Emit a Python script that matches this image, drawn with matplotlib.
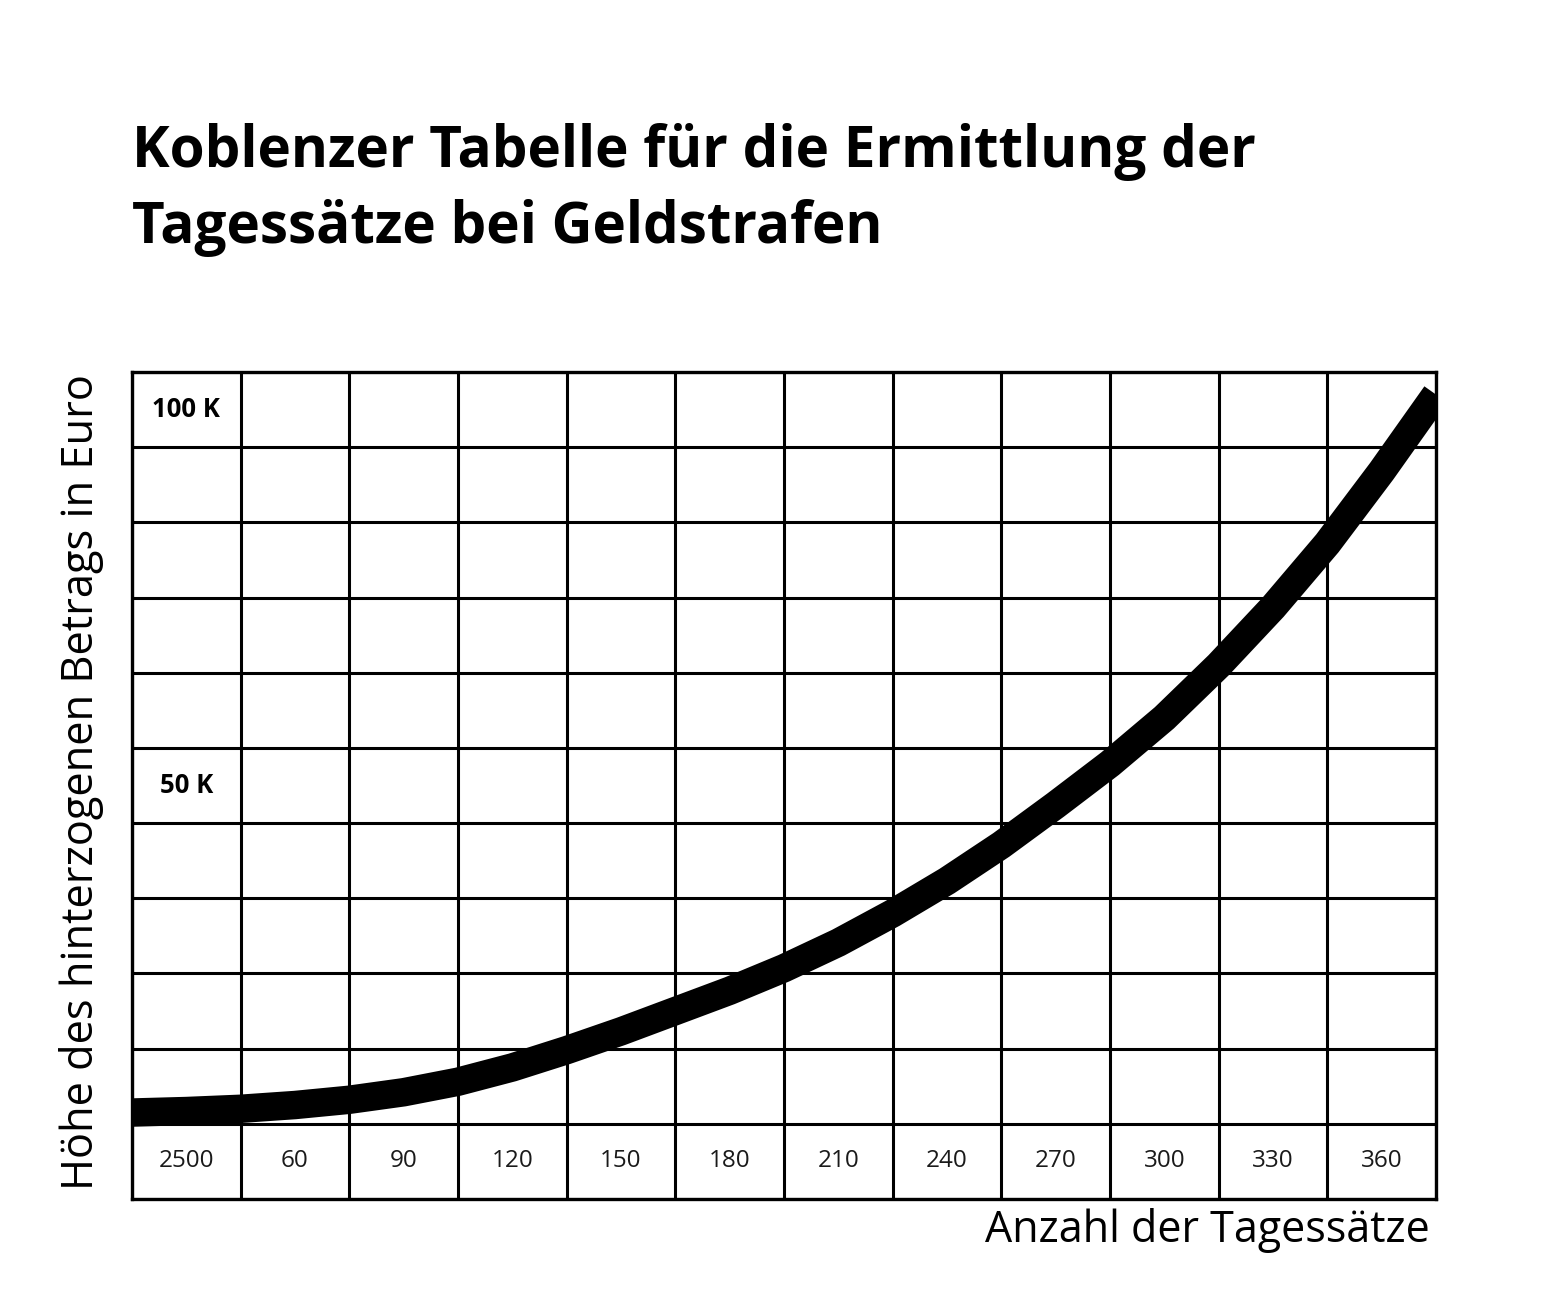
import matplotlib.pyplot as plt


TITLE_LINES = [
    "Koblenzer Tabelle für die Ermittlung der",
    "Tagessätze bei Geldstrafen",
]
Y_LABEL = "Höhe des hinterzogenen Betrags in Euro"
X_LABEL = "Anzahl der Tagessätze"

# column boundaries in days, one label per cell (as printed in the source)
DAY_EDGES = list(range(0, 361, 30))
CELL_LABELS = ["2500", "60", "90", "120", "150", "180", "210", "240", "270", "300", "330", "360"]

# row boundaries in euro, the bottom row holds the day labels
EURO_EDGES = list(range(-10000, 100001, 10000))
EURO_LABELS = {95000: "100 K", 45000: "50 K"}

# curve every half column
CURVE_DAYS = [0, 15, 30, 45, 60, 75, 90, 105, 120, 135, 150, 165, 180,
              195, 210, 225, 240, 255, 270, 285, 300, 315, 330, 345, 360]
CURVE_EURO = [1500, 1700, 2000, 2500, 3200, 4200, 5600, 7500, 9800, 12300, 15000, 17700, 20700,
              24100, 28000, 32300, 37100, 42400, 47900, 54000, 61000, 68700, 77200, 86800, 97000]

W, H = 1568, 1307
FONT = "Open Sans"


def main() -> None:
    fig = plt.figure(figsize=(W / 100, H / 100), dpi=100)
    fig.patch.set_facecolor("white")

    ax = fig.add_axes([132 / W, 1 - 1199 / H, (1436 - 132) / W, (1199 - 372) / H])
    ax.set_xlim(DAY_EDGES[0], DAY_EDGES[-1])
    ax.set_ylim(EURO_EDGES[0], EURO_EDGES[-1])
    ax.set_xticks(DAY_EDGES)
    ax.set_yticks(EURO_EDGES)
    ax.tick_params(length=0, labelbottom=False, labelleft=False)
    ax.grid(True, color="black", linewidth=2.2)
    ax.set_axisbelow(True)
    for spine in ax.spines.values():
        spine.set_linewidth(2.4)
        spine.set_color("black")

    ax.plot(
        CURVE_DAYS,
        CURVE_EURO,
        color="black",
        linewidth=20.5,
        solid_capstyle="butt",
        solid_joinstyle="round",
        zorder=3,
    )

    for left, label in zip(DAY_EDGES[:-1], CELL_LABELS):
        ax.text(left + 15, -5000, label, ha="center", va="center",
                fontsize=17.5, family=FONT, color="#1a1a1a")
    for y, label in EURO_LABELS.items():
        ax.text(15, y, label, ha="center", va="center",
                fontsize=18.5, family=FONT, fontweight="bold", color="black")

    fig.text(132 / W, 1 - 167 / H, TITLE_LINES[0], ha="left", va="baseline",
             fontsize=40.8, family=FONT, fontweight="bold")
    fig.text(132 / W, 1 - 243 / H, TITLE_LINES[1], ha="left", va="baseline",
             fontsize=40.8, family=FONT, fontweight="bold")

    fig.text(82 / W, 1 - 782 / H, Y_LABEL, rotation=90, ha="center", va="center",
             fontsize=31.2, family=FONT)
    fig.text(1430 / W, 1 - 1242 / H, X_LABEL, ha="right", va="baseline",
             fontsize=31, family=FONT)

    fig.savefig("out.png", dpi=100, facecolor="white")
    plt.close(fig)


if __name__ == "__main__":
    main()
